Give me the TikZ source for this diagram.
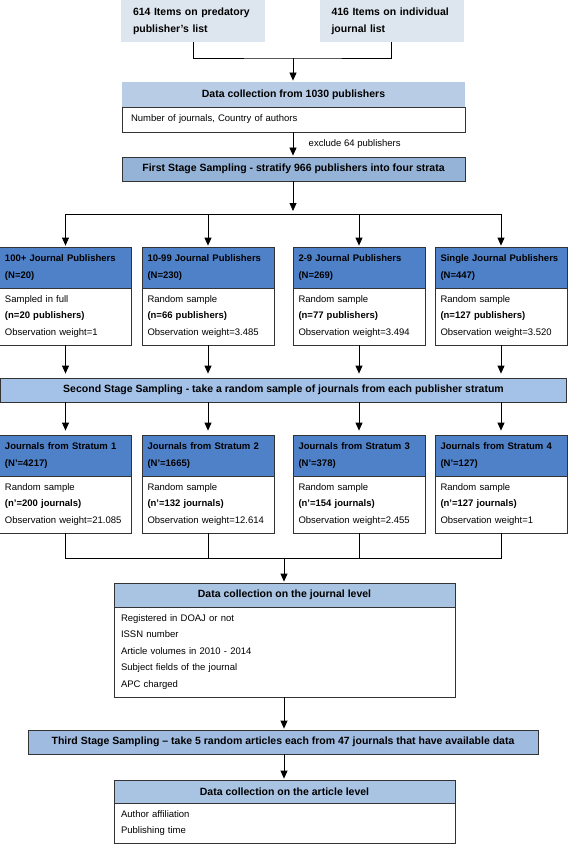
\documentclass[tikz,border=0pt]{standalone}
\usepackage{fontspec}
\setmainfont{Liberation Sans}
\usetikzlibrary{arrows.meta}

\definecolor{ListFill}{HTML}{DDE6EF}
\definecolor{DataFill}{HTML}{B8CCE6}
\definecolor{FirstFill}{HTML}{95B3D7}
\definecolor{StratumFill}{HTML}{4F81C9}
\definecolor{SecondFill}{HTML}{A4C2E8}
\definecolor{JournalFill}{HTML}{A9C3E3}
\definecolor{ThirdFill}{HTML}{9FBBE0}
\definecolor{BoxLine}{HTML}{333333}

\newcommand{\flowtitle}{\fontsize{10.5}{17}\selectfont\bfseries}
\newcommand{\flowtext}{\fontsize{9.5}{16.5}\selectfont}

\begin{document}
\begin{tikzpicture}[x=1pt, y=-1pt, line width=0.8pt,
		flow/.style={-{Triangle[width=7pt,length=8pt]}, shorten >=1pt},
		listbox/.style={fill=ListFill, text width=120pt, inner xsep=12pt, inner ysep=0pt, minimum height=42pt, align=left, font=\flowtitle},
		titlebox/.style={draw=BoxLine, inner sep=0pt, minimum height=24pt, align=center, font=\flowtitle},
		stratumhead/.style={draw=BoxLine, fill=StratumFill, text width=121pt, inner xsep=5.5pt, inner ysep=0pt, minimum height=41pt, align=left, font=\flowtext\bfseries},
		stratumbody/.style={draw=BoxLine, fill=white, text width=121pt, inner xsep=5.5pt, inner ysep=0pt, minimum height=57pt, align=left, font=\flowtext},
		itembox/.style={draw=BoxLine, fill=white, text width=327pt, inner xsep=7pt, inner ysep=0pt, align=left, font=\flowtext}]
				\useasboundingbox (0, 0) rectangle (567, 845);

				\node (List1) [listbox] at (193, 21) {614 Items on predatory\\publisher's list};
				\node (List2) [listbox] at (391.5, 21) {416 Items on individual\\journal list};
				\coordinate (Join1) at (293, 58);
				\draw (List1.south) |- (Join1) -| (List2.south);

				\node (DataHead) [titlebox, draw=none, fill=DataFill, minimum width=343pt, minimum height=25pt] at (293.5, 94.5) {Data collection from 1030 publishers};
				\node (DataBody) [itembox, text width=325pt, inner xsep=9pt, minimum height=25pt] at (293.5, 119.5) {Number of journals, Country of authors};
				\draw[flow] (Join1) -- (DataHead.north -| Join1);

				\node (FirstStage) [titlebox, fill=FirstFill, minimum width=343pt] at (293.5, 169) {First Stage Sampling - stratify 966 publishers into four strata};
				\draw[flow] (DataBody.south -| Join1) -- node[anchor=west, xshift=12pt, font=\flowtext] {exclude 64 publishers} (FirstStage.north -| Join1);

				% publisher strata
				\node (Head1) [stratumhead] at (65.5, 267.5) {100+ Journal Publishers\\(N=20)};
				\node (Head2) [stratumhead] at (208, 267.5) {10-99 Journal Publishers\\(N=230)};
				\node (Head3) [stratumhead] at (359, 267.5) {2-9 Journal Publishers\\(N=269)};
				\node (Head4) [stratumhead] at (501, 267.5) {Single Journal Publishers\\(N=447)};
				\node (Body1) [stratumbody] at (65.5, 316.5) {Sampled in full\\\textbf{(n=20 publishers)}\\Observation weight=1};
				\node (Body2) [stratumbody] at (208, 316.5) {Random sample\\\textbf{(n=66 publishers)}\\Observation weight=3.485};
				\node (Body3) [stratumbody] at (359, 316.5) {Random sample\\\textbf{(n=77 publishers)}\\Observation weight=3.494};
				\node (Body4) [stratumbody] at (501, 316.5) {Random sample\\\textbf{(n=127 publishers)}\\Observation weight=3.520};

				\coordinate (Split1) at (293, 214);
				\draw[flow, shorten >=3pt] (FirstStage.south -| Split1) -- (Split1);
				\draw (Head1.north |- Split1) -- (Head4.north |- Split1);
				\draw[flow] (Head1.north |- Split1) -- (Head1.north);
				\draw[flow] (Head2.north |- Split1) -- (Head2.north);
				\draw[flow] (Head3.north |- Split1) -- (Head3.north);
				\draw[flow] (Head4.north |- Split1) -- (Head4.north);

				\node (SecondStage) [titlebox, fill=SecondFill, minimum width=566pt] at (283.5, 390) {Second Stage Sampling - take a random sample of journals from each publisher stratum};
				\draw[flow, shorten >=4pt] (Body1.south) -- (Body1.south |- SecondStage.north);
				\draw[flow, shorten >=4pt] (Body2.south) -- (Body2.south |- SecondStage.north);
				\draw[flow, shorten >=4pt] (Body3.south) -- (Body3.south |- SecondStage.north);
				\draw[flow, shorten >=4pt] (Body4.south) -- (Body4.south |- SecondStage.north);

				% journal strata
				\node (JHead1) [stratumhead] at (65.5, 455.5) {Journals from Stratum 1\\(N'=4217)};
				\node (JHead2) [stratumhead] at (208, 455.5) {Journals from Stratum 2\\(N'=1665)};
				\node (JHead3) [stratumhead] at (359, 455.5) {Journals from Stratum 3\\(N'=378)};
				\node (JHead4) [stratumhead] at (501, 455.5) {Journals from Stratum 4\\(N'=127)};
				\node (JBody1) [stratumbody] at (65.5, 504.5) {Random sample\\\textbf{(n'=200 journals)}\\Observation weight=21.085};
				\node (JBody2) [stratumbody] at (208, 504.5) {Random sample\\\textbf{(n'=132 journals)}\\Observation weight=12.614};
				\node (JBody3) [stratumbody] at (359, 504.5) {Random sample\\\textbf{(n'=154 journals)}\\Observation weight=2.455};
				\node (JBody4) [stratumbody] at (501, 504.5) {Random sample\\\textbf{(n'=127 journals)}\\Observation weight=1};
				\draw[flow, shorten >=4pt] (SecondStage.south -| JHead1.north) -- (JHead1.north);
				\draw[flow, shorten >=4pt] (SecondStage.south -| JHead2.north) -- (JHead2.north);
				\draw[flow, shorten >=4pt] (SecondStage.south -| JHead3.north) -- (JHead3.north);
				\draw[flow, shorten >=4pt] (SecondStage.south -| JHead4.north) -- (JHead4.north);

				\coordinate (Merge) at (284, 558);
				\draw (JBody1.south) |- (JBody4.south |- Merge) -- (JBody4.south);
				\draw (JBody2.south) -- (JBody2.south |- Merge);
				\draw (JBody3.south) -- (JBody3.south |- Merge);

				\node (JournalHead) [titlebox, fill=JournalFill, minimum width=341pt] at (284.5, 595) {Data collection on the journal level};
				\node (JournalBody) [itembox, minimum height=90pt] at (284.5, 652) {Registered in DOAJ or not\\ISSN number\\Article volumes in 2010 - 2014\\Subject fields of the journal\\APC charged};
				\draw[flow] (Merge) -- (JournalHead.north -| Merge);

				\node (ThirdStage) [titlebox, fill=ThirdFill, minimum width=510pt] at (283, 742) {Third Stage Sampling -- take 5 random articles each from 47 journals that have available data};
				\draw[flow] (JournalBody.south -| Merge) -- (ThirdStage.north -| Merge);

				\node (ArticleHead) [titlebox, fill=JournalFill, minimum width=341pt, minimum height=23pt] at (284.5, 791.5) {Data collection on the article level};
				\node (ArticleBody) [itembox, minimum height=40pt] at (284.5, 823) {Author affiliation\\Publishing time};
				\draw[flow] (ThirdStage.south -| Merge) -- (ArticleHead.north -| Merge);
			\end{tikzpicture}
\end{document}
